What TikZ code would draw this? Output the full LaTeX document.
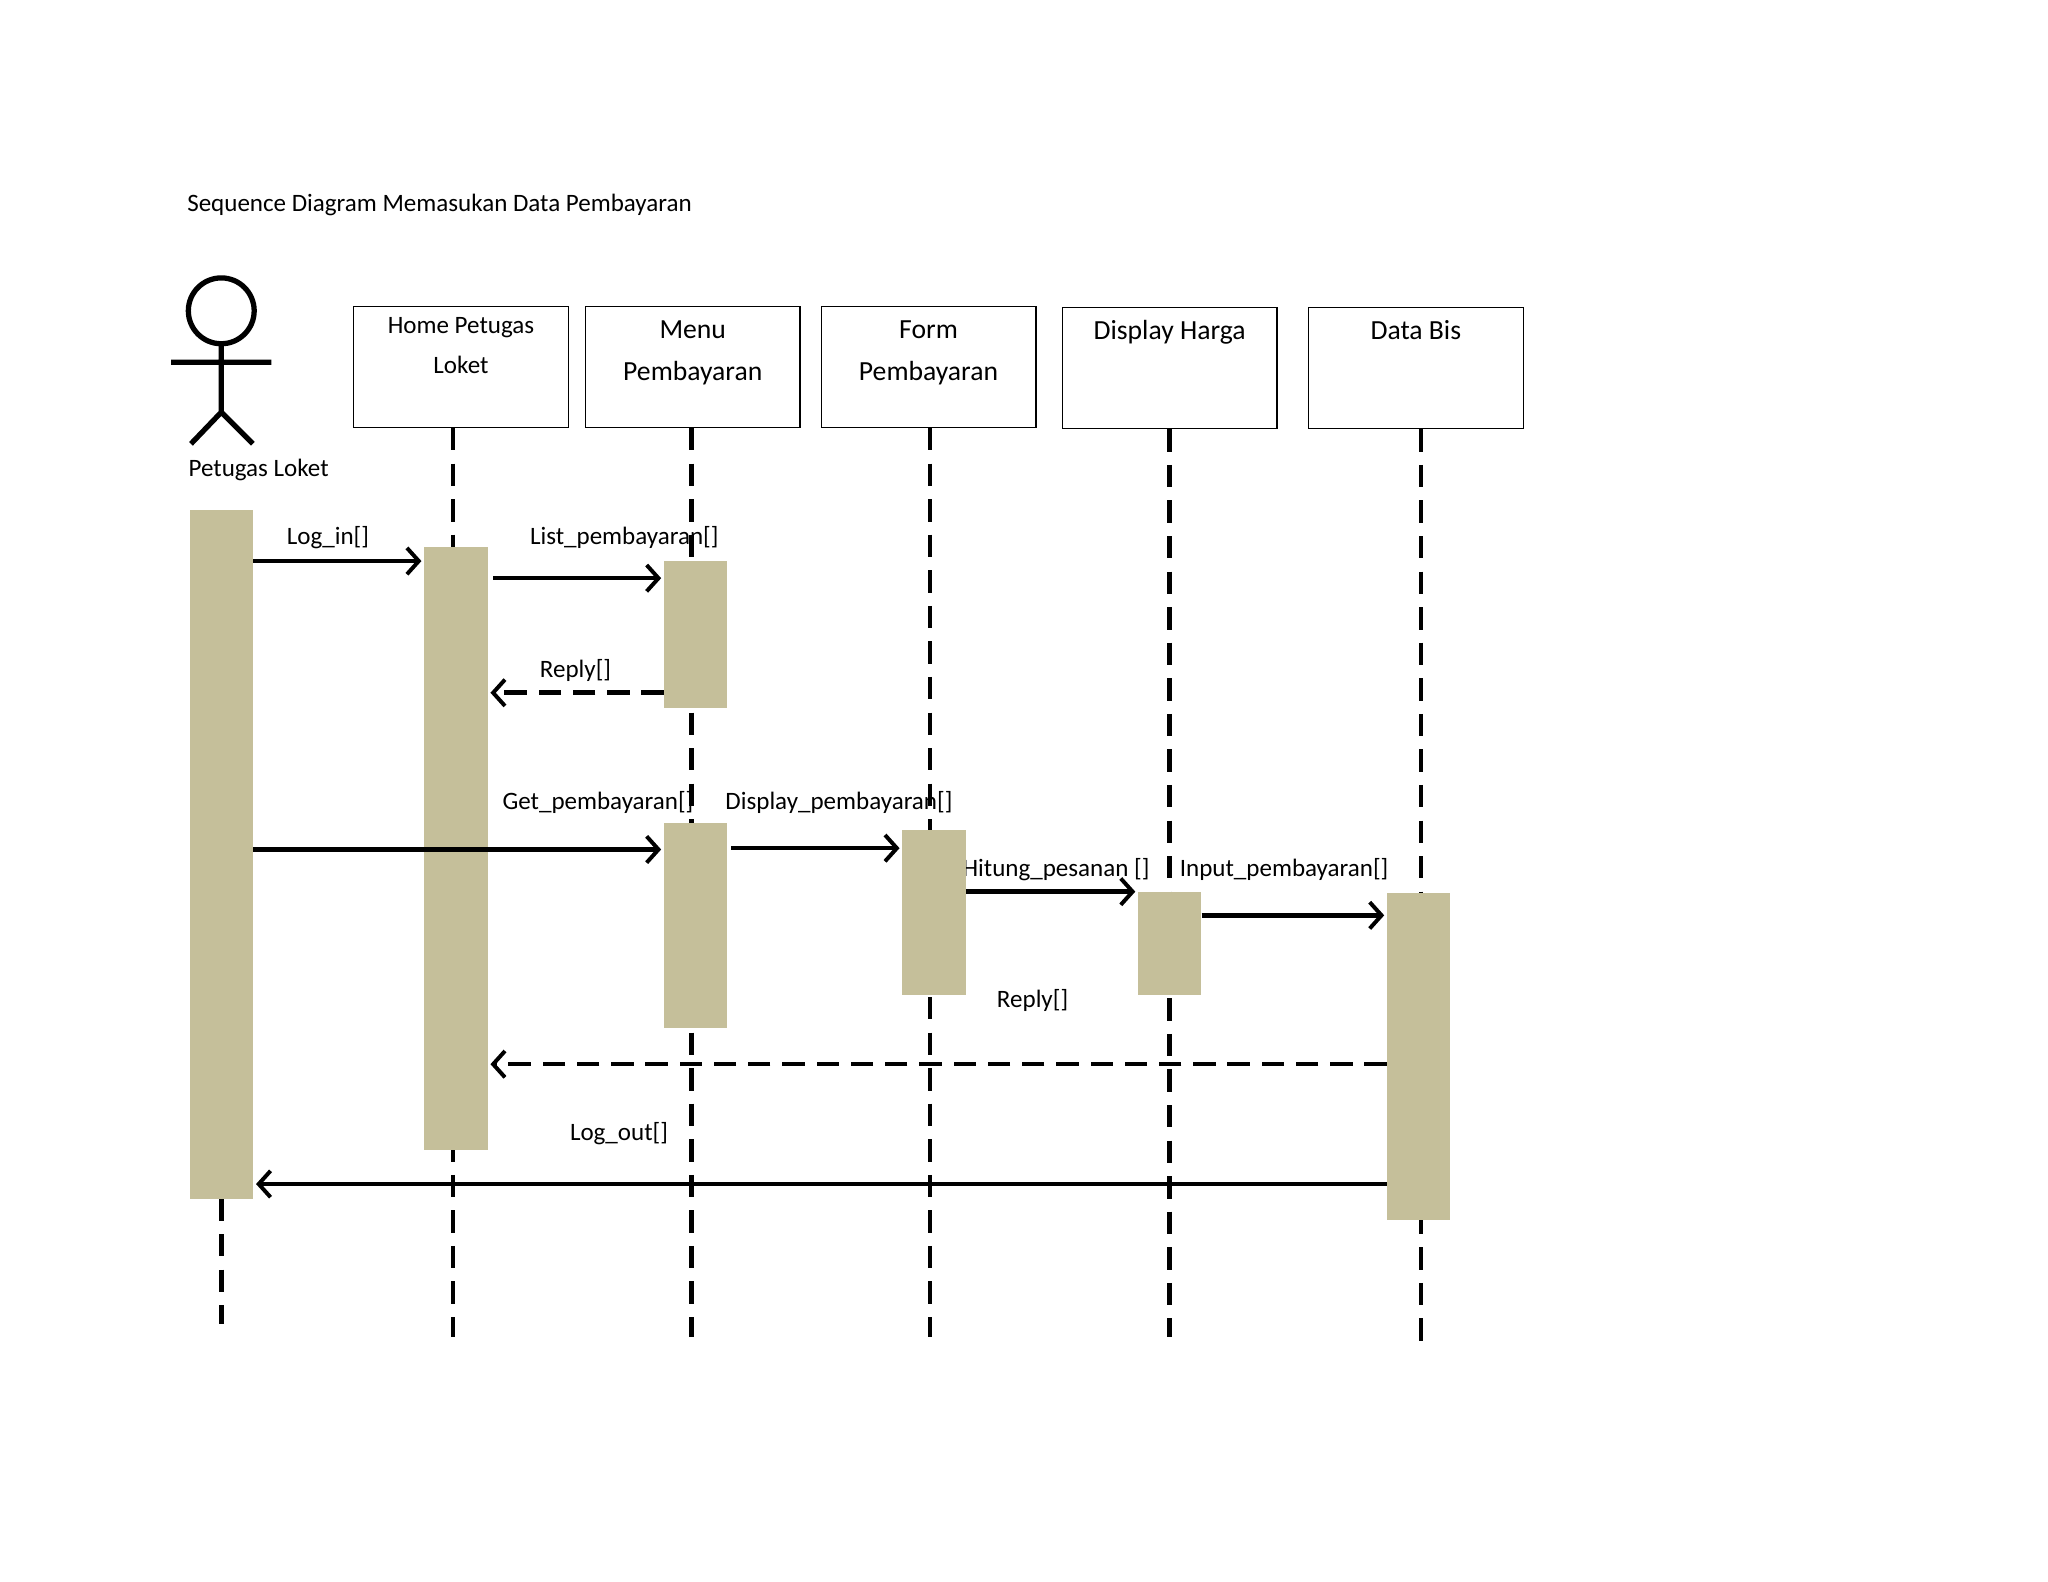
\documentclass[tikz,border=0pt]{standalone}
\usepackage{fontspec}
\setmainfont{Carlito}
\usetikzlibrary{arrows.meta}
\definecolor{act}{HTML}{C5BF9A}
\begin{document}
\begin{tikzpicture}[x=1pt,y=-1pt,
  obj/.style={draw,line width=1pt,minimum width=163pt,minimum height=92pt,anchor=north west,inner sep=0pt},
  life/.style={line width=3.5pt,dash pattern=on 17pt off 10pt},
  actbox/.style={fill=act,draw=none,anchor=north west,inner sep=0pt,minimum width=48pt},
  msg/.style={line width=3.5pt,-{Straight Barb[length=9pt,width=20pt,line width=3pt]}},
  rep/.style={msg,dash pattern=on 17pt off 9pt},
  lbl/.style={font=\fontsize{19}{22}\selectfont,inner sep=0pt}]
\useasboundingbox (0,0) rectangle (1555,1201);
\node[lbl,anchor=west] (title) at (142,156) {Sequence Diagram Memasukan Data Pembayaran};
% actor
\draw[line width=4pt] (168,236) circle (25);
\draw[line width=4pt] (168,261) -- (168,313) (130,275) -- (206,275) (145,337) -- (168,313) -- (192,337);
\node[lbl,anchor=west] (actlbl) at (143,357) {Petugas Loket};
% objects
\node[obj] (home) at (268,232) {};
\node[lbl,align=center,anchor=north] at (350,241) {Home Petugas\\[8pt]Loket};
\node[obj] (menu) at (444,232) {};
\node[lbl,align=center,anchor=north,font=\fontsize{21}{24}\selectfont] at (526,243) {Menu\\[8pt]Pembayaran};
\node[obj] (form) at (623,232) {};
\node[lbl,align=center,anchor=north,font=\fontsize{21}{24}\selectfont] at (705,243) {Form\\[8pt]Pembayaran};
\node[obj] (disp) at (806,233) {};
\node[lbl,anchor=north,font=\fontsize{21}{24}\selectfont] at (888,243) {Display Harga};
\node[obj] (data) at (993,233) {};
\node[lbl,anchor=north,font=\fontsize{21}{24}\selectfont] at (1075,243) {Data Bis};
% lifelines
\coordinate (l0) at (168,910); \coordinate (l0e) at (168,1005);
\draw[life] (l0) -- (l0e);
\draw[life] (home.south -| 344,0) -- (344,1015);
\draw[life] (menu.south -| 525,0) -- (525,1015);
\draw[life] (form.south -| 706,0) -- (706,1015);
\draw[life] (disp.south -| 888,0) -- (888,1015);
\draw[life] (data.south -| 1079,0) -- (1079,1020);
% labels
\node[lbl] at (249,408) {Log\_in[]};
\node[lbl] at (474,408) {List\_pembayaran[]};
\node[lbl] at (437,509) {Reply[]};
\node[lbl] at (454,609) {Get\_pembayaran[]};
\node[lbl] at (637,609) {Display\_pembayaran[]};
\node[lbl,anchor=east] at (873,660) {Hitung\_pesanan []};
\node[lbl] at (975,660) {Input\_pembayaran[]};
\node[lbl] at (784,760) {Reply[]};
\node[lbl] at (470,861) {Log\_out[]};
% activations
\node[actbox,minimum height=523pt] (a0) at (144,387) {};
\node[actbox,minimum height=458pt] (a1) at (322,415) {};
\node[actbox,minimum height=111pt] (a2) at (504,426) {};
\node[actbox,minimum height=155pt] (a3) at (504,625) {};
\node[actbox,minimum height=125pt] (a4) at (685,630) {};
\node[actbox,minimum height=78pt] (a5) at (864,677) {};
\node[actbox,minimum height=248pt] (a6) at (1053,678) {};
% messages
\draw[msg] (a0.east |- 0,426) -- ([xshift=-2pt]a1.west |- 0,426);
\draw[msg] ([xshift=4pt]a1.east |- 0,439) -- ([xshift=-2pt]a2.west |- 0,439);
\draw[rep] (a2.west |- 0,526) -- ([xshift=2pt]a1.east |- 0,526);
\draw[msg] (a0.east |- 0,645) -- ([xshift=-2pt]a3.west |- 0,645);
\draw[msg] ([xshift=3pt]a3.east |- 0,644) -- ([xshift=-2pt]a4.west |- 0,644);
\draw[msg] (a4.east |- 0,677) -- ([xshift=-2pt]a5.west |- 0,677);
\draw[msg] (a5.east |- 0,695) -- ([xshift=-2pt]a6.west |- 0,695);
\draw[rep] (a6.west |- 0,808) -- ([xshift=2pt]a1.east |- 0,808);
\draw[msg] (a6.west |- 0,899) -- ([xshift=2pt]a0.east |- 0,899);
\end{tikzpicture}
\end{document}
